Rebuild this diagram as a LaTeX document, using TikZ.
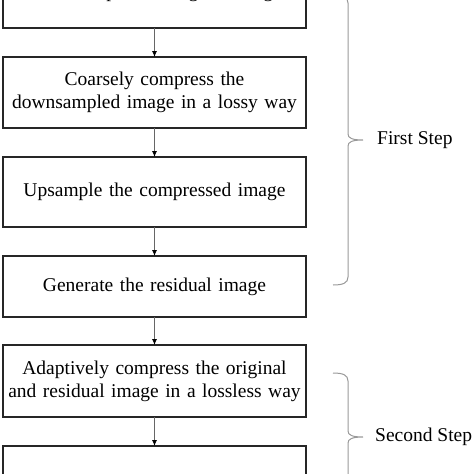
\documentclass[tikz,border=0pt]{standalone}
\usepackage{fontspec}
\setmainfont{Liberation Serif}
\usetikzlibrary{arrows.meta}
\begin{document}
\begin{tikzpicture}[x=1pt,y=-1pt,
  stepbox/.style={draw=black!85,line width=1.3pt,minimum width=303pt,text width=300pt,align=center,inner sep=0pt,outer sep=0pt,font=\fontsize{19.5}{23}\selectfont},
  arr/.style={draw=black!60,line width=0.8pt,-{Latex[length=6pt,width=5pt,black]}},
  bracepath/.style={draw=black!40,line width=1pt},
  steplabel/.style={anchor=west,inner sep=0pt,font=\fontsize{19.5}{23}\selectfont}]
\useasboundingbox (0,0) rectangle (474,474);
\clip (0,0) rectangle (474,474);
\node[stepbox,minimum height=70pt] (b1) at (154.5,-7) {Downsample the original image};
\node[stepbox,minimum height=71pt] (b2) at (154.5,92.5) {Coarsely compress the\\downsampled image in a lossy way};
\node[stepbox,minimum height=70pt] (b3) at (154.5,192) {Upsample the compressed image};
\node[stepbox,minimum height=61pt] (b4) at (154.5,286.5) {Generate the residual image};
\node[stepbox,minimum height=72pt] (b5) at (154.5,381) {Adaptively compress the original\\and residual image in a lossless way};
\node[stepbox,minimum height=70pt] (b6) at (154.5,481) {};
\draw[arr] (b1.south) -- (b2.north);
\draw[arr] (b2.south) -- (b3.north);
\draw[arr] (b3.south) -- (b4.north);
\draw[arr] (b4.south) -- (b5.north);
\draw[arr] (b5.south) -- (b6.north);
% first brace
\coordinate (fa) at (333,-5);
\coordinate (ft) at (363,140);
\coordinate (fb) at (333,285);
\draw[bracepath] (fa) .. controls (343,-5) and (348,-3) .. (348,3) -- (348,134)
  .. controls (348,138) and (352,140) .. (ft)
  .. controls (352,140) and (348,142) .. (348,146) -- (348,277)
  .. controls (348,283) and (343,285) .. (fb);
\node[steplabel] (l1) at (377,140) {First Step};
% second brace
\coordinate (sa) at (333,373);
\coordinate (st) at (363,437);
\coordinate (sb) at (333,501);
\draw[bracepath] (sa) .. controls (343,373) and (348,375) .. (348,381) -- (348,431)
  .. controls (348,435) and (352,437) .. (st)
  .. controls (352,437) and (348,439) .. (348,443) -- (348,493)
  .. controls (348,499) and (343,501) .. (sb);
\node[steplabel] (l2) at (375,437) {Second Step};
\end{tikzpicture}
\end{document}
